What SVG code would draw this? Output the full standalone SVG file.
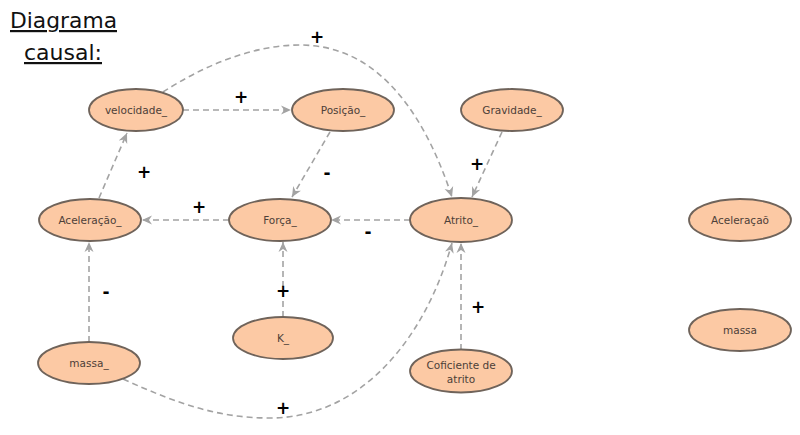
<svg xmlns="http://www.w3.org/2000/svg" width="800" height="435" viewBox="0 0 800 435">
<defs>
<marker id="ah" markerUnits="userSpaceOnUse" markerWidth="11" markerHeight="10" refX="10" refY="5" orient="auto">
<path d="M0,0.5 L10,5 L0,9.5 L3,5 z" fill="#a3a3a3"/>
</marker>
<style>
.node ellipse{fill:#fcc9a4;stroke:#6f635a;stroke-width:1.8}
.node text{font-family:"DejaVu Sans","Open Sans",sans-serif;font-size:10.5px;fill:#4d4038;text-anchor:middle}
.edge{fill:none;stroke:#a3a3a3;stroke-width:1.6;stroke-dasharray:6 4;marker-end:url(#ah)}
.sign{font-family:"DejaVu Sans",sans-serif;font-size:17px;font-weight:bold;fill:#000;text-anchor:middle}
.title{font-family:"DejaVu Sans","Open Sans",sans-serif;font-size:22px;fill:#111;text-decoration:underline}
</style>
</defs>
<rect width="800" height="435" fill="#ffffff"/>
<g id="title">
<text class="title" x="10" y="28" textLength="107" lengthAdjust="spacingAndGlyphs">Diagrama</text>
<text class="title" x="24" y="60" textLength="78" lengthAdjust="spacingAndGlyphs">causal:</text>
</g>
<g id="connectors">
<path class="edge" d="M183,110 L291,110"/>
<path class="edge" d="M330,132 L292,197"/>
<path class="edge" d="M99,198 L127,133"/>
<path class="edge" d="M229,220 L142,220"/>
<path class="edge" d="M410,220 L331,220"/>
<path class="edge" d="M502,132 L472,197"/>
<path class="edge" d="M163,92 C200,68 250,45 300,45 C370,45 420,100 452,197"/>
<path class="edge" d="M283,317 L283,242"/>
<path class="edge" d="M89,342 L89,242"/>
<path class="edge" d="M461,350 L461,243"/>
<path class="edge" d="M123,379 C180,405 220,418 270,418 C360,418 425,340 452,243"/>
</g>
<g id="signs">
<text class="sign" x="241" y="103">+</text>
<text class="sign" x="327" y="179">-</text>
<text class="sign" x="144" y="178">+</text>
<text class="sign" x="199" y="213">+</text>
<text class="sign" x="368" y="238">-</text>
<text class="sign" x="477" y="170">+</text>
<text class="sign" x="317" y="43">+</text>
<text class="sign" x="283" y="297">+</text>
<text class="sign" x="106" y="298">-</text>
<text class="sign" x="478" y="313">+</text>
<text class="sign" x="283" y="414">+</text>
</g>
<g id="velocidade" class="node"><ellipse cx="136" cy="110" rx="47" ry="21"/><text x="136" y="114">velocidade_</text></g>
<g id="posicao" class="node"><ellipse cx="343" cy="110" rx="51" ry="21"/><text x="343" y="114">Posição_</text></g>
<g id="gravidade" class="node"><ellipse cx="512" cy="110" rx="51" ry="21"/><text x="512" y="114">Gravidade_</text></g>
<g id="aceleracao" class="node"><ellipse cx="90" cy="220" rx="51" ry="21"/><text x="90" y="224">Aceleração_</text></g>
<g id="forca" class="node"><ellipse cx="280" cy="220" rx="51" ry="21"/><text x="280" y="224">Força_</text></g>
<g id="atrito" class="node"><ellipse cx="461" cy="220" rx="51" ry="22"/><text x="461" y="224">Atrito_</text></g>
<g id="aceleracao2" class="node"><ellipse cx="740" cy="220" rx="51" ry="21"/><text x="740" y="224">Aceleraçaõ</text></g>
<g id="massa2" class="node"><ellipse cx="740" cy="330" rx="51" ry="21"/><text x="740" y="334">massa</text></g>
<g id="k" class="node"><ellipse cx="283" cy="338" rx="50" ry="21"/><text x="283" y="342">K_</text></g>
<g id="massa" class="node"><ellipse cx="89" cy="363" rx="51" ry="21"/><text x="89" y="367">massa_</text></g>
<g id="coeficiente" class="node"><ellipse cx="461" cy="371" rx="51" ry="21.5"/><text x="461" y="369">Coficiente de</text><text x="461" y="383">atrito</text></g>
</svg>
